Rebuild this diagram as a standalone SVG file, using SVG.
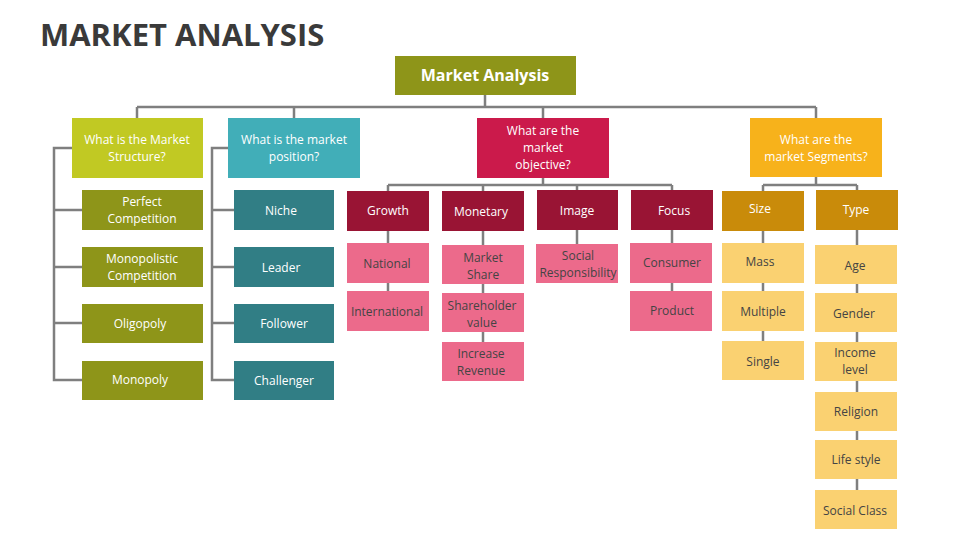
<svg xmlns="http://www.w3.org/2000/svg" width="960" height="540" viewBox="0 0 960 540">
<style>
text{font-family:"Open Sans","Liberation Sans",sans-serif;font-size:12px;text-anchor:middle}
.w{fill:#fff}.d{fill:#444}
.c{stroke:#7f7f7f;stroke-width:2.5;fill:none}
.ol{fill:#8E9519}.te{fill:#317E85}.mr{fill:#991434}.pk{fill:#EC6A8B}.gd{fill:#C98B0A}.ye{fill:#FAD171}
</style>
<rect width="960" height="540" fill="#fff"/>
<text x="40" y="46" style="font-size:31px;font-weight:bold;text-anchor:start;fill:#3a3a3a">MARKET ANALYSIS</text>
<g id="connectors" class="c">
<path d="M485 95V107M137 107H816M137 107V118M294 107V118M543 107V118M816 107V118"/>
<path d="M72 148H54V380H82M54 210H82M54 267H82M54 323H82"/>
<path d="M228 148H212V380H234M212 210H234M212 267H234M212 323H234"/>
<path d="M543 178V185M388 185H672M388 185V191M483 185V191M577 185V190M672 185V190"/>
<path d="M388 231V291M483 231V342M577 230V244M672 230V291"/>
<path d="M816 177V185M763 185H857M763 185V191M857 185V190M763 231V341M857 230V490"/>
</g>
<g id="root"><rect x="395" y="56" width="181" height="39" class="ol"/><text x="485" y="81" class="w" style="font-size:16px;font-weight:bold">Market Analysis</text></g>
<g id="structure"><rect x="72" y="118" width="131" height="60" fill="#C1C923"/><text x="137" y="144" class="w">What is the Market</text><text x="137" y="161" class="w">Structure?</text></g>
<g id="position"><rect x="228" y="118" width="132" height="60" fill="#41AEB8"/><text x="294" y="144" class="w">What is the market</text><text x="294" y="161" class="w">position?</text></g>
<g id="objective"><rect x="477" y="118" width="132" height="60" fill="#CB1A4B"/><text x="543" y="135" class="w">What are the</text><text x="543" y="152" class="w">market</text><text x="543" y="169" class="w">objective?</text></g>
<g id="segments"><rect x="750" y="118" width="132" height="59" fill="#F7B21B"/><text x="816" y="144" class="w">What are the</text><text x="816" y="161" class="w">market Segments?</text></g>
<g id="perfect"><rect x="82" y="190" width="121" height="40" class="ol"/><text x="142" y="206" class="w">Perfect</text><text x="142" y="223" class="w">Competition</text></g>
<g id="monopolistic"><rect x="82" y="247" width="121" height="40" class="ol"/><text x="142" y="263" class="w">Monopolistic</text><text x="142" y="280" class="w">Competition</text></g>
<g id="oligopoly"><rect x="82" y="304" width="121" height="39" class="ol"/><text x="140" y="328" class="w">Oligopoly</text></g>
<g id="monopoly"><rect x="82" y="361" width="121" height="39" class="ol"/><text x="140" y="384" class="w">Monopoly</text></g>
<g id="niche"><rect x="234" y="190" width="100" height="40" class="te"/><text x="281" y="215" class="w">Niche</text></g>
<g id="leader"><rect x="234" y="247" width="100" height="40" class="te"/><text x="281" y="272" class="w">Leader</text></g>
<g id="follower"><rect x="234" y="304" width="100" height="39" class="te"/><text x="284" y="328" class="w">Follower</text></g>
<g id="challenger"><rect x="234" y="361" width="100" height="39" class="te"/><text x="284" y="385" class="w">Challenger</text></g>
<g id="growth"><rect x="347" y="191" width="82" height="40" class="mr"/><text x="388" y="215" class="w">Growth</text></g>
<g id="monetary"><rect x="442" y="191" width="82" height="40" class="mr"/><text x="481" y="216" class="w">Monetary</text></g>
<g id="image"><rect x="537" y="190" width="81" height="40" class="mr"/><text x="577" y="215" class="w">Image</text></g>
<g id="focus"><rect x="631" y="190" width="82" height="40" class="mr"/><text x="674" y="215" class="w">Focus</text></g>
<g id="national"><rect x="347" y="243" width="82" height="40" class="pk"/><text x="387" y="268" class="d">National</text></g>
<g id="international"><rect x="347" y="291" width="82" height="40" class="pk"/><text x="387" y="316" class="d">International</text></g>
<g id="marketshare"><rect x="442" y="245" width="82" height="39" class="pk"/><text x="483" y="262" class="d">Market</text><text x="483" y="279" class="d">Share</text></g>
<g id="shareholder"><rect x="442" y="293" width="82" height="39" class="pk"/><text x="482" y="310" class="d">Shareholder</text><text x="482" y="327" class="d">value</text></g>
<g id="increase"><rect x="442" y="342" width="82" height="39" class="pk"/><text x="481" y="358" class="d">Increase</text><text x="481" y="375" class="d">Revenue</text></g>
<g id="social"><rect x="536" y="244" width="82" height="39" class="pk"/><text x="578" y="260" class="d">Social</text><text x="578" y="277" class="d">Responsibility</text></g>
<g id="consumer"><rect x="630" y="243" width="82" height="40" class="pk"/><text x="672" y="267" class="d">Consumer</text></g>
<g id="product"><rect x="630" y="291" width="82" height="40" class="pk"/><text x="672" y="315" class="d">Product</text></g>
<g id="size"><rect x="722" y="191" width="82" height="40" class="gd"/><text x="760" y="213" class="w">Size</text></g>
<g id="type"><rect x="816" y="190" width="82" height="40" class="gd"/><text x="856" y="214" class="w">Type</text></g>
<g id="mass"><rect x="722" y="243" width="82" height="40" class="ye"/><text x="760" y="266" class="d">Mass</text></g>
<g id="multiple"><rect x="722" y="291" width="82" height="40" class="ye"/><text x="763" y="316" class="d">Multiple</text></g>
<g id="single"><rect x="722" y="341" width="82" height="39" class="ye"/><text x="763" y="366" class="d">Single</text></g>
<g id="age"><rect x="815" y="245" width="82" height="39" class="ye"/><text x="855" y="270" class="d">Age</text></g>
<g id="gender"><rect x="815" y="293" width="82" height="39" class="ye"/><text x="854" y="318" class="d">Gender</text></g>
<g id="income"><rect x="815" y="342" width="82" height="39" class="ye"/><text x="855" y="357" class="d">Income</text><text x="855" y="374" class="d">level</text></g>
<g id="religion"><rect x="815" y="392" width="82" height="39" class="ye"/><text x="856" y="416" class="d">Religion</text></g>
<g id="lifestyle"><rect x="815" y="440" width="82" height="39" class="ye"/><text x="856" y="464" class="d">Life style</text></g>
<g id="socialclass"><rect x="815" y="490" width="82" height="39" class="ye"/><text x="855" y="515" class="d">Social Class</text></g>
</svg>
